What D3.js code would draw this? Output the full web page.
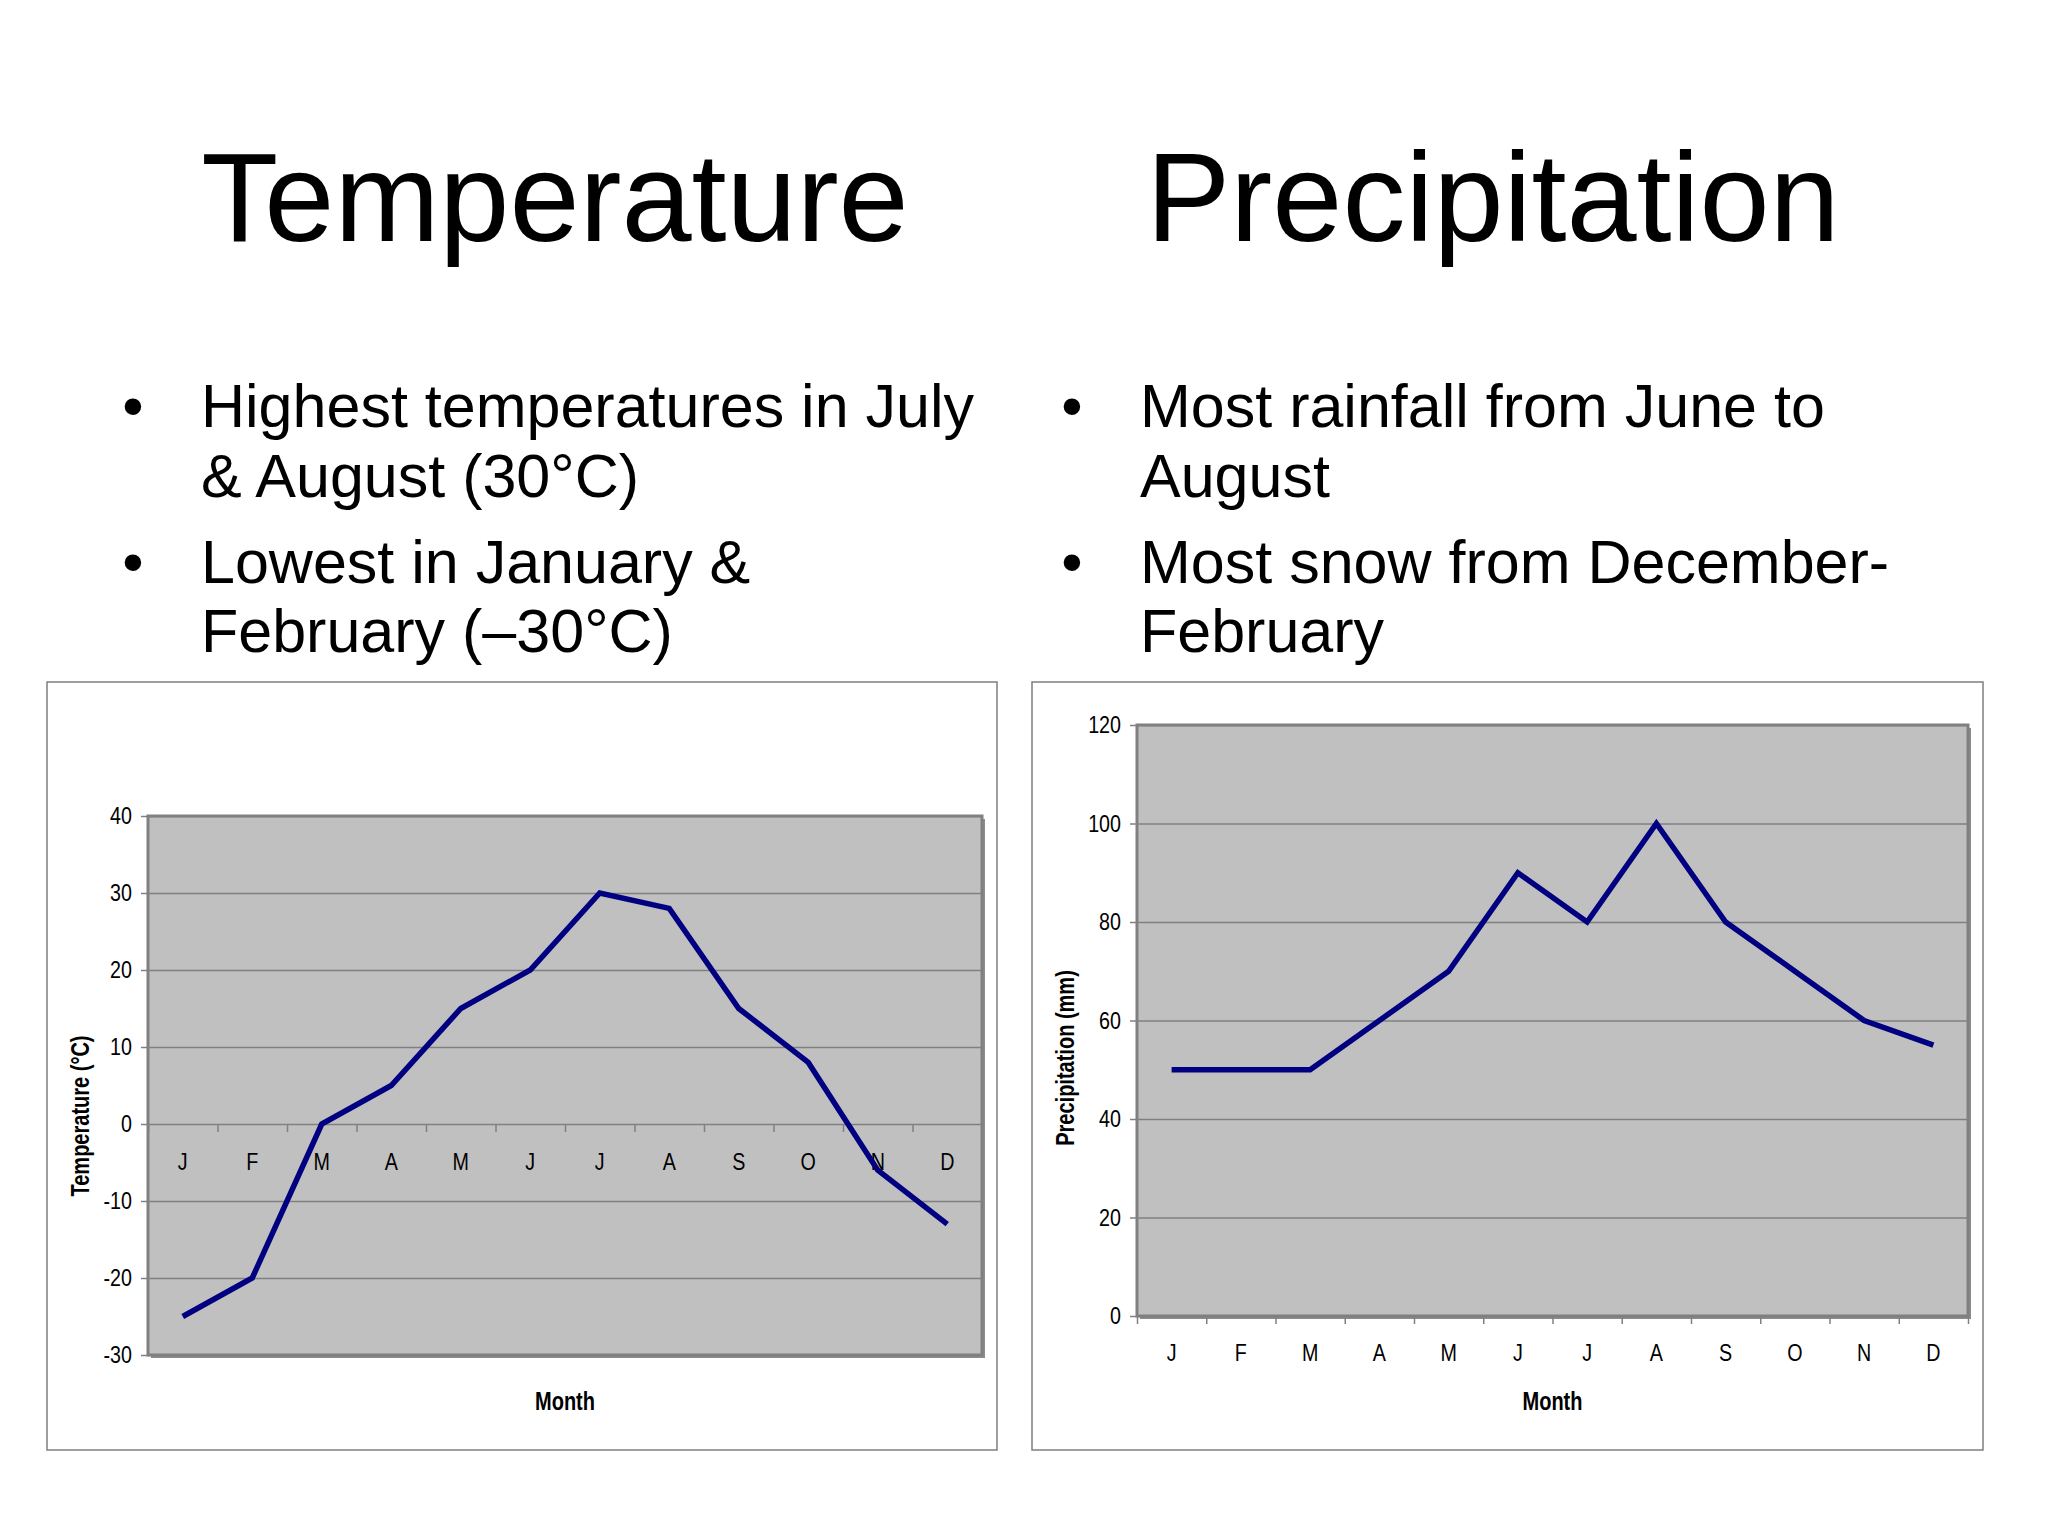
<!DOCTYPE html>
<html lang="en">
  <head>
    <meta charset="utf-8" />
    <title>Temperature and Precipitation</title>
    <script src="https://cdn.jsdelivr.net/npm/d3@7"></script>
    <style>
      body { margin: 0; background: #fff; }
      svg { display: block; }
      .slide-text { font-family: "Liberation Sans", Arial, sans-serif; fill: #000; }
      .chart-text { font-family: "Liberation Sans", Arial, sans-serif; fill: #000; }
    </style>
  </head>
  <body>
    <div id="slide"></div>
    <script>
      // chart values
      const months = ["J", "F", "M", "A", "M", "J", "J", "A", "S", "O", "N", "D"];
      const temperature = [-25, -20, 0, 5, 15, 20, 30, 28, 15, 8, -6, -13];
      const precipitation = [50, 50, 50, 60, 70, 90, 80, 100, 80, 70, 60, 55];
      const tempTicks = [-30, -20, -10, 0, 10, 20, 30, 40];
      const precipTicks = [0, 20, 40, 60, 80, 100, 120];

      const titles = ["Temperature", "Precipitation"];
      const tempBullets = [
        ["Highest temperatures in July", "& August (30°C)"],
        ["Lowest in January &", "February (–30°C)"]
      ];
      const precipBullets = [
        ["Most rainfall from June to", "August"],
        ["Most snow from December-", "February"]
      ];

      const W = 2048, H = 1536;
      const svg = d3.select("#slide").append("svg")
        .attr("width", W)
        .attr("height", H);

      // no Arial Narrow here, so squeeze the chart text horizontally
      function narrow(sel, k = 0.8) {
        sel.each(function () {
          const w = this.getComputedTextLength();
          d3.select(this)
            .attr("textLength", w * k)
            .attr("lengthAdjust", "spacingAndGlyphs");
        });
      }

      // slide titles
      svg.append("text").attr("class", "slide-text")
        .attr("x", 555).attr("y", 241)
        .attr("text-anchor", "middle")
        .attr("font-size", 126)
        .text(titles[0]);
      svg.append("text").attr("class", "slide-text")
        .attr("x", 1493).attr("y", 241)
        .attr("text-anchor", "middle")
        .attr("font-size", 126)
        .text(titles[1]);

      // bullet lists
      function bullets(list, bulletX, textX) {
        const baselines = [[427, 497], [583, 652]];
        list.forEach((lines, i) => {
          svg.append("text").attr("class", "slide-text")
            .attr("x", bulletX).attr("y", baselines[i][0])
            .attr("text-anchor", "middle")
            .attr("font-size", 61)
            .text("•");
          lines.forEach((line, j) => {
            svg.append("text").attr("class", "slide-text")
              .attr("x", textX).attr("y", baselines[i][j])
              .attr("font-size", 61)
              .text(line);
          });
        });
      }
      bullets(tempBullets, 133, 201);
      bullets(precipBullets, 1072, 1140);

      function drawChart(cfg) {
        const g = svg.append("g");

        // outer chart frame
        g.append("rect")
          .attr("x", cfg.box[0]).attr("y", cfg.box[1])
          .attr("width", cfg.box[2] - cfg.box[0])
          .attr("height", cfg.box[3] - cfg.box[1])
          .attr("fill", "#fff")
          .attr("stroke", "#7f7f7f")
          .attr("stroke-width", 1.5);

        const [left, top, right, bottom] = cfg.plot;

        const x = d3.scaleBand()
          .domain(d3.range(months.length))
          .range([left, right]);
        const xEdges = d3.scaleLinear()
          .domain([0, months.length])
          .range([left, right]);
        const y = d3.scaleLinear()
          .domain(cfg.domain)
          .range([bottom, top]);

        // plot area with a soft shadow
        g.append("rect")
          .attr("x", left + 3).attr("y", top + 3)
          .attr("width", right - left).attr("height", bottom - top)
          .attr("fill", "#8c8c8c");
        g.append("rect")
          .attr("x", left).attr("y", top)
          .attr("width", right - left).attr("height", bottom - top)
          .attr("fill", "#c0c0c0")
          .attr("stroke", "#808080")
          .attr("stroke-width", 3);

        // gridlines
        const grid = g.append("g")
          .attr("transform", `translate(${left},0)`)
          .call(d3.axisLeft(y).tickValues(cfg.ticks).tickSize(-(right - left)).tickFormat(""));
        grid.select(".domain").remove();
        grid.selectAll("line")
          .attr("stroke", "#808080")
          .attr("stroke-width", 1.5);

        // value axis
        const yAxis = g.append("g")
          .attr("transform", `translate(${left},0)`)
          .call(d3.axisLeft(y).tickValues(cfg.ticks).tickSize(7).tickPadding(9).tickFormat(d => String(d)));
        yAxis.select(".domain").remove();
        yAxis.selectAll("line").attr("stroke", "#808080").attr("stroke-width", 1.5);
        yAxis.selectAll("text")
          .attr("class", "chart-text")
          .attr("font-size", 24)
          .attr("fill", "#000")
          .call(narrow, 0.82);

        // category axis: boundary ticks and month labels
        const axisY = y(cfg.crossAt);
        const edges = g.append("g")
          .attr("transform", `translate(0,${axisY})`)
          .call(d3.axisBottom(xEdges).tickValues(d3.range(months.length + 1)).tickSize(8).tickFormat(""));
        edges.select(".domain").remove();
        edges.selectAll("line").attr("stroke", "#808080").attr("stroke-width", 1.5);

        const xAxis = g.append("g")
          .attr("transform", `translate(0,${axisY})`)
          .call(d3.axisBottom(x).tickSize(0).tickPadding(cfg.labelPad).tickFormat(i => months[i]));
        xAxis.select(".domain").remove();
        xAxis.selectAll("text")
          .attr("class", "chart-text")
          .attr("font-size", 24)
          .attr("fill", "#000")
          .call(narrow, 0.82);

        // series line
        const line = d3.line()
          .x((d, i) => x(i) + x.bandwidth() / 2)
          .y(d => y(d));
        g.append("path")
          .datum(cfg.values)
          .attr("d", line)
          .attr("fill", "none")
          .attr("stroke", "#000080")
          .attr("stroke-width", 5.5)
          .attr("stroke-linejoin", "miter");

        // axis titles
        g.append("text").attr("class", "chart-text")
          .attr("transform", `translate(${cfg.yTitle[0]},${cfg.yTitle[1]}) rotate(-90)`)
          .attr("text-anchor", "middle")
          .attr("dy", "0.35em")
          .attr("font-size", 25)
          .attr("font-weight", "bold")
          .text(cfg.yLabel)
          .call(narrow);
        g.append("text").attr("class", "chart-text")
          .attr("x", (left + right) / 2).attr("y", 1401)
          .attr("text-anchor", "middle")
          .attr("dy", "0.35em")
          .attr("font-size", 25)
          .attr("font-weight", "bold")
          .text("Month")
          .call(narrow);
      }

      drawChart({
        box: [47, 682, 997, 1450],
        plot: [148, 816, 982, 1355],
        domain: [-30, 40],
        ticks: tempTicks,
        crossAt: 0,
        labelPad: 29,
        values: temperature,
        yLabel: "Temperature (°C)",
        yTitle: [80, 1116]
      });

      drawChart({
        box: [1032, 682, 1983, 1450],
        plot: [1137, 725, 1968, 1316],
        domain: [0, 120],
        ticks: precipTicks,
        crossAt: 0,
        labelPad: 28,
        values: precipitation,
        yLabel: "Precipitation (mm)",
        yTitle: [1065, 1058]
      });
    </script>
  </body>
</html>
